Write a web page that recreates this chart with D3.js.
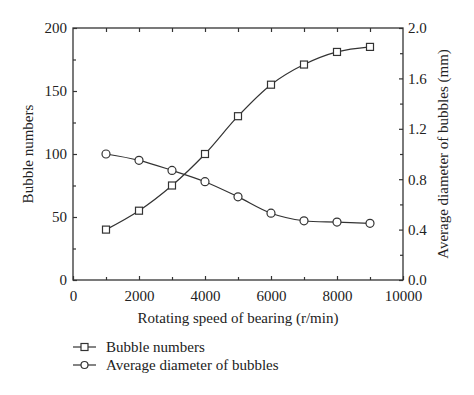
<!DOCTYPE html>
<html>
<head>
<meta charset="utf-8">
<script src="https://cdn.jsdelivr.net/npm/d3@7"></script>
<style>
  body { margin: 0; background: #fff; }
  svg text { font-family: "Liberation Serif", "DejaVu Serif", serif; fill: #222; }
</style>
</head>
<body>
<script>
const speeds = [1000, 2000, 3000, 4000, 5000, 6000, 7000, 8000, 9000];
const bubbleNumbers = [40, 55, 75, 100, 130, 155, 171, 181, 185];
const avgDiameter = [1.0, 0.95, 0.87, 0.78, 0.66, 0.53, 0.47, 0.46, 0.45];

const xTicks = [0, 2000, 4000, 6000, 8000, 10000];
const yLeftTicks = [0, 50, 100, 150, 200];
const yRightTicks = [0, 0.4, 0.8, 1.2, 1.6, 2.0];

const margin = { top: 28, right: 71, bottom: 115, left: 73 };
const W = 474, H = 395;
const width = W - margin.left - margin.right;
const height = H - margin.top - margin.bottom;

const x = d3.scaleLinear().domain([0, 10000]).range([0, width]);
const yL = d3.scaleLinear().domain([0, 200]).range([height, 0]);
const yR = d3.scaleLinear().domain([0, 2.0]).range([height, 0]);

const svg = d3.select('body').append('svg')
  .attr('width', W)
  .attr('height', H);

const g = svg.append('g')
  .attr('transform', `translate(${margin.left}, ${margin.top})`);

const stroke = '#333';
const tickLen = 4;
const minorLen = 3;
const fontSize = '15px';

// frame
g.append('rect')
  .attr('width', width)
  .attr('height', height)
  .attr('fill', 'none')
  .attr('stroke', stroke)
  .attr('stroke-width', 1.3);

function styleAxis(sel) {
  sel.select('.domain').remove();
  sel.selectAll('.tick line').attr('stroke', stroke).attr('stroke-width', 1.2);
  sel.selectAll('.tick text').style('font-size', fontSize);
}

// bottom
g.append('g')
  .attr('transform', `translate(0, ${height})`)
  .call(d3.axisBottom(x).tickValues(xTicks).tickSize(-tickLen).tickPadding(10).tickFormat(d3.format('d')))
  .call(styleAxis);
g.append('g')
  .attr('transform', `translate(0, ${height})`)
  .call(d3.axisBottom(x).tickValues(d3.range(1000, 10000, 2000)).tickSize(-minorLen).tickFormat(''))
  .call(styleAxis);
// top (mirror)
g.append('g')
  .call(d3.axisTop(x).tickValues(d3.range(1000, 10000, 1000)).tickSize(-tickLen).tickFormat(''))
  .call(styleAxis);

// left
g.append('g')
  .call(d3.axisLeft(yL).tickValues(yLeftTicks).tickSize(-tickLen).tickPadding(6))
  .call(styleAxis);
g.append('g')
  .call(d3.axisLeft(yL).tickValues(d3.range(25, 200, 50)).tickSize(-minorLen).tickFormat(''))
  .call(styleAxis);

// right
g.append('g')
  .attr('transform', `translate(${width}, 0)`)
  .call(d3.axisRight(yR).tickValues(yRightTicks).tickSize(-tickLen).tickPadding(5).tickFormat(d3.format('.1f')))
  .call(styleAxis);
g.append('g')
  .attr('transform', `translate(${width}, 0)`)
  .call(d3.axisRight(yR).tickValues(d3.range(0.2, 2.0, 0.4)).tickSize(-minorLen).tickFormat(''))
  .call(styleAxis);

// axis titles
g.append('text')
  .attr('x', width / 2)
  .attr('y', height + 43)
  .attr('text-anchor', 'middle')
  .style('font-size', fontSize)
  .text('Rotating speed of bearing (r/min)');

g.append('text')
  .attr('transform', 'rotate(-90)')
  .attr('x', -height / 2)
  .attr('y', -40)
  .attr('text-anchor', 'middle')
  .style('font-size', fontSize)
  .text('Bubble numbers');

g.append('text')
  .attr('transform', 'rotate(-90)')
  .attr('x', -height / 2)
  .attr('y', width + 45)
  .attr('text-anchor', 'middle')
  .style('font-size', fontSize)
  .text('Average diameter of bubbles (mm)');

// series
const line = d3.line().curve(d3.curveCatmullRom.alpha(0.5));

g.append('path')
  .attr('d', line(speeds.map((s, i) => [x(s), yL(bubbleNumbers[i])])))
  .attr('fill', 'none')
  .attr('stroke', stroke)
  .attr('stroke-width', 1.2);

g.append('path')
  .attr('d', line(speeds.map((s, i) => [x(s), yR(avgDiameter[i])])))
  .attr('fill', 'none')
  .attr('stroke', stroke)
  .attr('stroke-width', 1.2);

const sq = 7;
g.selectAll('rect.pt')
  .data(speeds)
  .enter().append('rect')
  .attr('class', 'pt')
  .attr('x', (d) => x(d) - sq / 2)
  .attr('y', (d, i) => yL(bubbleNumbers[i]) - sq / 2)
  .attr('width', sq)
  .attr('height', sq)
  .attr('fill', '#fff')
  .attr('stroke', stroke)
  .attr('stroke-width', 1.2);

g.selectAll('circle.pt')
  .data(speeds)
  .enter().append('circle')
  .attr('class', 'pt')
  .attr('cx', (d) => x(d))
  .attr('cy', (d, i) => yR(avgDiameter[i]))
  .attr('r', 4)
  .attr('fill', '#fff')
  .attr('stroke', stroke)
  .attr('stroke-width', 1.2);

// legend
const legend = svg.append('g').attr('transform', 'translate(73, 347)');
const items = ['Bubble numbers', 'Average diameter of bubbles'];
items.forEach((label, i) => {
  const row = legend.append('g').attr('transform', `translate(0, ${i * 18})`);
  row.append('line')
    .attr('x1', 0).attr('x2', 23)
    .attr('stroke', stroke).attr('stroke-width', 1.2);
  if (i === 0) {
    row.append('rect')
      .attr('x', 11.5 - 3.5).attr('y', -3.5)
      .attr('width', 7).attr('height', 7)
      .attr('fill', '#fff').attr('stroke', stroke).attr('stroke-width', 1.2);
  } else {
    row.append('circle')
      .attr('cx', 11.5).attr('r', 3.5)
      .attr('fill', '#fff').attr('stroke', stroke).attr('stroke-width', 1.2);
  }
  row.append('text')
    .attr('x', 33)
    .attr('y', 5)
    .style('font-size', fontSize)
    .text(label);
});
</script>
</body>
</html>
